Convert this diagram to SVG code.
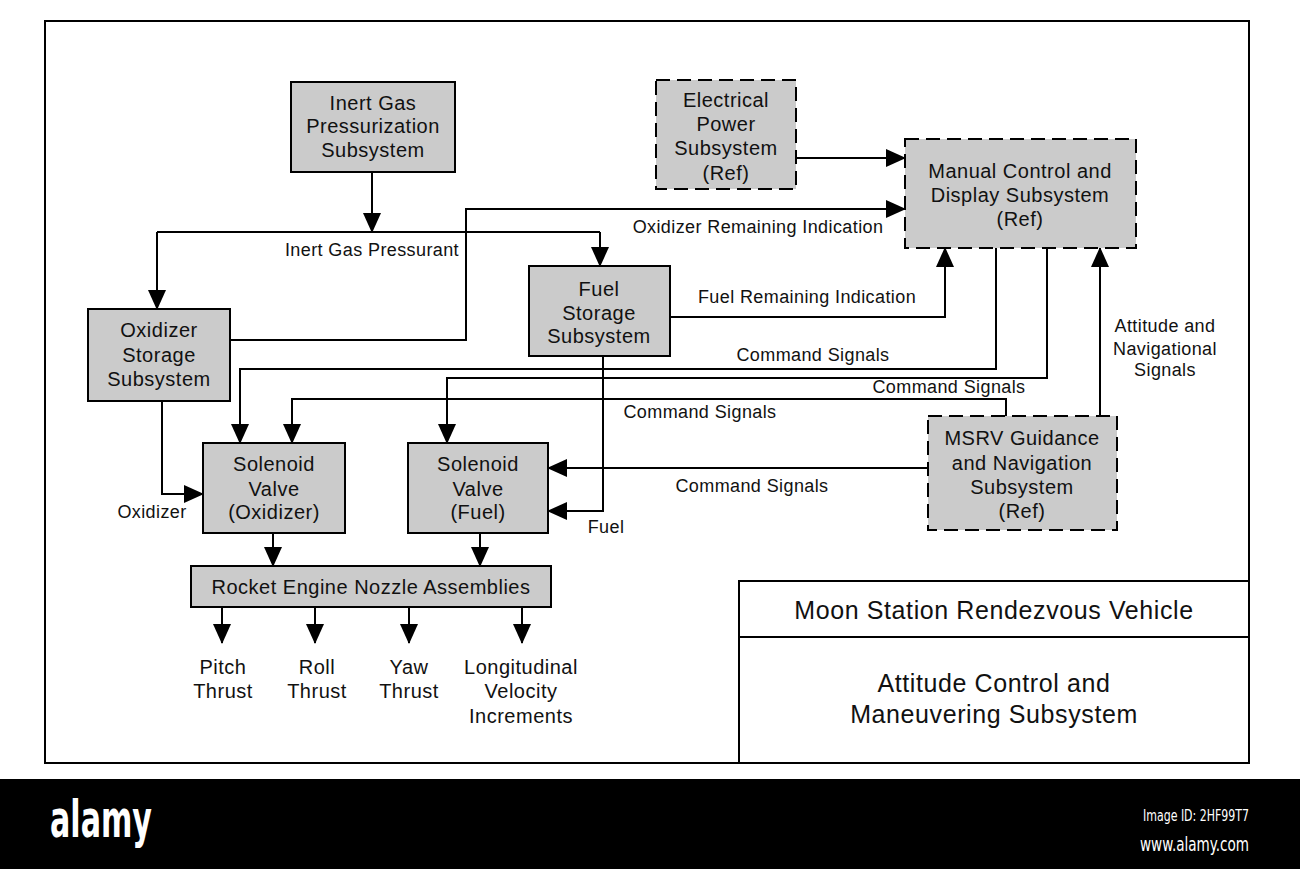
<svg xmlns="http://www.w3.org/2000/svg" width="1300" height="869" viewBox="0 0 1300 869">
<style>
.bx{fill:#cbcbcb;stroke:#000;stroke-width:2}
.dbx{fill:#cbcbcb;stroke:#000;stroke-width:2;stroke-dasharray:14 7}
.t{font-family:"Liberation Sans",Arial,sans-serif;font-size:20px;letter-spacing:0.5px;fill:#111;text-anchor:middle}
.l{font-family:"Liberation Sans",Arial,sans-serif;font-size:18px;letter-spacing:0.4px;fill:#111;text-anchor:middle}
.h{font-family:"Liberation Sans",Arial,sans-serif;font-size:25px;letter-spacing:0.6px;fill:#111;text-anchor:middle}
.ln{fill:none;stroke:#000;stroke-width:2}
.a{fill:none;stroke:#000;stroke-width:2;marker-end:url(#ah)}
</style>
<defs>
<marker id="ah" markerUnits="userSpaceOnUse" markerWidth="20" markerHeight="18" viewBox="0 0 20 18" refX="19" refY="9" orient="auto">
<path d="M0,0 L20,9 L0,18 z" fill="#000"/>
</marker>
</defs>
<rect x="0" y="0" width="1300" height="869" fill="#fff"/>
<rect x="45" y="21" width="1204" height="742" fill="none" stroke="#000" stroke-width="2"/>

<g id="connectors">
<path class="a" d="M372,172 V232"/>
<path class="ln" d="M157,232 H600"/>
<path class="a" d="M157,232 V309"/>
<path class="a" d="M600,232 V266"/>
<path class="a" d="M796,158 H905"/>
<path class="a" d="M230,340 H466 V209 H905"/>
<path class="a" d="M670,317 H945 V248"/>
<path class="a" d="M996,248 V369 H240 V443"/>
<path class="a" d="M1047,248 V378 H447 V443"/>
<path class="a" d="M1006,416 V399 H292 V443"/>
<path class="a" d="M928,468 H548"/>
<path class="a" d="M1100,416 V248"/>
<path class="a" d="M162,401 V494 H203"/>
<path class="a" d="M603,356 V511 H548"/>
<path class="a" d="M273,533 V566"/>
<path class="a" d="M480,533 V566"/>
<path class="a" d="M222,607 V643"/>
<path class="a" d="M315,607 V643"/>
<path class="a" d="M409,607 V643"/>
<path class="a" d="M522,607 V643"/>
<text class="l" x="372" y="256">Inert Gas Pressurant</text>
<text class="l" x="758" y="233">Oxidizer Remaining Indication</text>
<text class="l" x="807" y="303">Fuel Remaining Indication</text>
<text class="l" x="813" y="361">Command Signals</text>
<text class="l" x="949" y="393">Command Signals</text>
<text class="l" x="700" y="418">Command Signals</text>
<text class="l" x="752" y="492">Command Signals</text>
<text class="l" x="1165" y="332">Attitude and</text>
<text class="l" x="1165" y="355">Navigational</text>
<text class="l" x="1165" y="376">Signals</text>
<text class="l" x="152" y="518">Oxidizer</text>
<text class="l" x="606" y="533">Fuel</text>
</g>

<g id="inert-gas">
<rect class="bx" x="291" y="82" width="164" height="90"/>
<text class="t" x="373" y="110">Inert Gas</text>
<text class="t" x="373" y="133">Pressurization</text>
<text class="t" x="373" y="157">Subsystem</text>
</g>
<g id="electrical-power">
<rect class="dbx" x="656" y="80" width="140" height="109"/>
<text class="t" x="726" y="107">Electrical</text>
<text class="t" x="726" y="131">Power</text>
<text class="t" x="726" y="155">Subsystem</text>
<text class="t" x="726" y="180">(Ref)</text>
</g>
<g id="manual-control">
<rect class="dbx" x="905" y="139" width="231" height="109"/>
<text class="t" x="1020" y="178">Manual Control and</text>
<text class="t" x="1020" y="202">Display Subsystem</text>
<text class="t" x="1020" y="226">(Ref)</text>
</g>
<g id="fuel-storage">
<rect class="bx" x="529" y="266" width="141" height="90"/>
<text class="t" x="599" y="296">Fuel</text>
<text class="t" x="599" y="320">Storage</text>
<text class="t" x="599" y="343">Subsystem</text>
</g>
<g id="oxidizer-storage">
<rect class="bx" x="88" y="309" width="142" height="92"/>
<text class="t" x="159" y="337">Oxidizer</text>
<text class="t" x="159" y="362">Storage</text>
<text class="t" x="159" y="386">Subsystem</text>
</g>
<g id="msrv-guidance">
<rect class="dbx" x="928" y="416" width="189" height="114"/>
<text class="t" x="1022" y="445">MSRV Guidance</text>
<text class="t" x="1022" y="470">and Navigation</text>
<text class="t" x="1022" y="494">Subsystem</text>
<text class="t" x="1022" y="518">(Ref)</text>
</g>
<g id="solenoid-oxidizer">
<rect class="bx" x="203" y="443" width="142" height="90"/>
<text class="t" x="274" y="471">Solenoid</text>
<text class="t" x="274" y="496">Valve</text>
<text class="t" x="274" y="519">(Oxidizer)</text>
</g>
<g id="solenoid-fuel">
<rect class="bx" x="408" y="443" width="140" height="90"/>
<text class="t" x="478" y="471">Solenoid</text>
<text class="t" x="478" y="496">Valve</text>
<text class="t" x="478" y="519">(Fuel)</text>
</g>
<g id="rocket-engine">
<rect class="bx" x="191" y="566" width="360" height="41"/>
<text class="t" x="371" y="594">Rocket Engine Nozzle Assemblies</text>
</g>
<g id="outputs">
<text class="t" x="223" y="674">Pitch</text>
<text class="t" x="223" y="698">Thrust</text>
<text class="t" x="317" y="674">Roll</text>
<text class="t" x="317" y="698">Thrust</text>
<text class="t" x="409" y="674">Yaw</text>
<text class="t" x="409" y="698">Thrust</text>
<text class="t" x="521" y="674">Longitudinal</text>
<text class="t" x="521" y="698">Velocity</text>
<text class="t" x="521" y="723">Increments</text>
</g>
<g id="title-block">
<path class="ln" d="M739,763 V581 H1249 M739,637 H1249"/>
<text class="h" x="994" y="619">Moon Station Rendezvous Vehicle</text>
<text class="h" x="994" y="692">Attitude Control and</text>
<text class="h" x="994" y="723">Maneuvering Subsystem</text>
</g>
<g id="banner">
<rect x="0" y="779" width="1300" height="90" fill="#000"/>
<text x="50" y="837" font-family="'DejaVu Sans Condensed','DejaVu Sans',sans-serif" font-weight="bold" font-size="52" fill="#fff" textLength="102" lengthAdjust="spacingAndGlyphs">alamy</text>
<text x="1249" y="821" font-family="'DejaVu Sans Condensed','DejaVu Sans',sans-serif" font-size="16" fill="#fff" text-anchor="end" textLength="106" lengthAdjust="spacingAndGlyphs">Image ID: 2HF99T7</text>
<text x="1249" y="851" font-family="'DejaVu Sans Condensed','DejaVu Sans',sans-serif" font-size="19" fill="#fff" text-anchor="end" textLength="109" lengthAdjust="spacingAndGlyphs">www.alamy.com</text>
</g>
</svg>
